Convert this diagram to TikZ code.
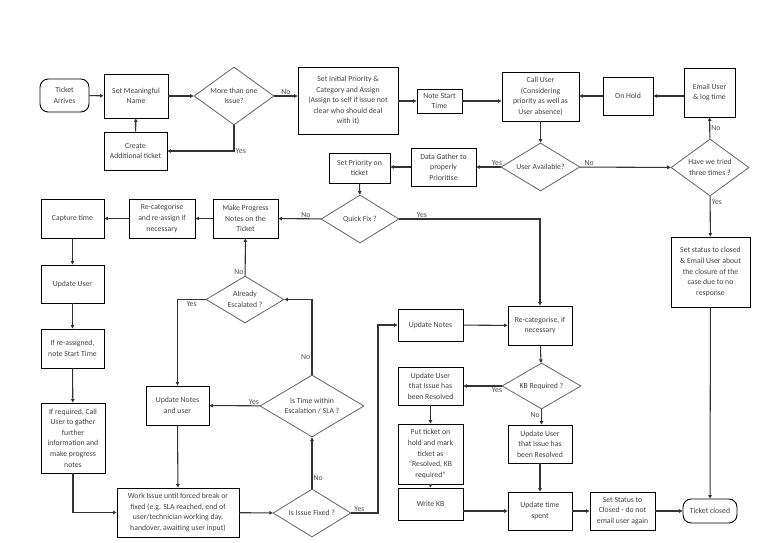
\documentclass[tikz,border=0pt]{standalone}
\usepackage{fontspec}
\setmainfont{Carlito}
\usetikzlibrary{shapes.geometric,arrows.meta,positioning}

\begin{document}
\begin{tikzpicture}[x=0.03cm, y=-0.03cm,
    font=\fontsize{6.6}{9}\selectfont, text=black!75,
    box/.style 2 args={draw, rectangle, align=center, inner sep=1pt, line width=0.8pt, minimum width=#1*0.03cm, minimum height=#2*0.03cm},
    term/.style 2 args={box={#1}{#2}, rounded corners=7pt},
    dia/.style 2 args={draw=black!60, diamond, aspect=1.5, align=center, inner sep=0pt, line width=0.7pt, minimum width=#1*0.03cm, minimum height=#2*0.03cm},
    arr/.style={-{Triangle[length=3pt,width=3pt]}, line width=0.9pt, draw=black!80},
    lbl/.style={font=\fontsize{6.6}{8}\selectfont, text=black!70, inner sep=1pt}]
    \useasboundingbox (0,0) rectangle (768,543);

    % top row
    \node (arrive) [term={49}{33}] at (64.5,95.5) {Ticket\\Arrives};
    \node (name) [box={64}{44}] at (136,96) {Set Meaningful\\Name};
    \node (more) [dia={80}{58}] at (234,96) {More than one\\Issue?};
    \node (initial) [box={100}{67}] at (348,100.5) {Set Initial Priority \&\\Category and Assign\\(Assign to self if issue not\\clear who should deal\\with it)};
    \node (extra) [box={63}{38}] at (135.5,151) {Create\\Additional ticket};
    \node (start) [box={45}{24}] at (439.5,101) {Note Start\\Time};
    \node (call) [box={77}{49}] at (540.5,96.5) {Call User\\(Considering\\priority as well as\\User absence)};
    \node (hold) [box={50}{38}] at (628,96) {On Hold};
    \node (email) [box={51}{49}] at (709.5,92.5) {Email User\\\& log time};

    % second row
    \node (avail) [dia={79}{48}] at (540.5,167) {User Available?};
    \node (tried) [dia={78}{57}] at (710,167.5) {Have we tried\\three times ?};
    \node (gather) [box={65}{38}] at (443.5,167) {Data Gather to\\properly\\Prioritise};
    \node (prio) [box={61}{30}] at (359.5,168) {Set Priority on\\ticket};
    \node (quick) [dia={78}{48}] at (360,219) {Quick Fix ?};
    \node (noreply) [box={79}{70}] at (710.5,272) {Set status to closed\\\& Email User about\\the closure of the\\case due to no\\response};
    \node (closed) [term={54}{24}] at (710,511) {Ticket closed};

    % left part
    \node (progress) [box={65}{39}] at (245.5,218.5) {Make Progress\\Notes on the\\Ticket};
    \node (reassign) [box={66}{39}] at (162,218.5) {Re-categorise\\and re-assign if\\necessary};
    \node (capture) [box={63}{39}] at (72.5,218.5) {Capture time};
    \node (upduser) [box={63}{38}] at (72.5,284) {Update User};
    \node (restart) [box={63}{39}] at (72.5,348.5) {If re-assigned,\\note Start Time};
    \node (callback) [box={64}{70}] at (73,438) {If required, Call\\User to gather\\further\\information and\\make progress\\notes};
    \node (escal) [dia={78}{47}] at (245,299.5) {Already\\Escalated ?};
    \node (within) [dia={104}{62}] at (312,406) {Is Time within\\Escalation / SLA ?};
    \node (notes) [box={63}{39}] at (177.5,405.5) {Update Notes\\and user};
    \node (work) [box={122}{49}] at (178,512.5) {Work Issue until forced break or\\fixed (e.g. SLA reached, end of\\user/technician working day,\\handover, awaiting user input)};
    \node (fixed) [dia={78}{48}] at (312,513) {Is Issue Fixed ?};

    % right part
    \node (fixnotes) [box={65}{32}] at (430.5,325) {Update Notes};
    \node (recat) [box={64}{39}] at (540,325.5) {Re-categorise, if\\necessary};
    \node (kb) [dia={79}{46}] at (541.5,386) {KB Required ?};
    \node (tellkb) [box={65}{38}] at (430.5,386) {Update User\\that Issue has\\been Resolved};
    \node (holdkb) [box={65}{60}] at (430.5,454) {Put ticket on\\hold and mark\\ticket as\\“Resolved, KB\\required”};
    \node (writekb) [box={65}{32}] at (430.5,504) {Write KB};
    \node (tell) [box={64}{38}] at (540,444) {Update User\\that Issue has\\been Resolved};
    \node (spent) [box={64}{38}] at (540,511) {Update time\\spent};
    \node (status) [box={65}{38}] at (622.5,511) {Set Status to\\Closed - do not\\email user again};
    \coordinate (turn) at (378,513);

    % connectors
    \draw[arr] (arrive) -- (name);
    \draw[arr] (name) -- (more);
    \draw[arr] (more.east) -- node[lbl, above] {No} (more.east -| initial.west);
    \draw[arr] (more.south) |- node[lbl, pos=0.5, anchor=west] {Yes} (extra.east);
    \draw[arr] (extra) -- (name);
    \draw[arr] (initial.east |- start) -- (start);
    \draw[arr] (start.east) -- (start.east -| call.west);
    \draw[arr] (email.west |- hold) -- (hold);
    \draw[arr] (hold) -- (hold -| call.east);
    \draw[arr] (call) -- (avail);
    \draw[arr] (avail) -- node[lbl, pos=0.03, anchor=south west] {No} (tried);
    \draw[arr] (tried) -- node[lbl, right] {No} (email);
    \draw[arr] (tried) -- node[lbl, pos=0.15, right] {Yes} (noreply);
    \draw[arr] (noreply) -- (closed);
    \draw[arr] (avail) -- node[lbl, pos=0.15, above] {Yes} (gather);
    \draw[arr] (gather.west) -- (gather.west -| prio.east);
    \draw[arr] (prio) -- (quick);
    \draw[arr] (quick) -- node[lbl, pos=0.35, above] {No} (progress);
    \draw[arr] (quick.east) -| node[lbl, pos=0.08, above] {Yes} (recat.north);
    \draw[arr] (progress) -- (reassign);
    \draw[arr] (reassign) -- (capture);
    \draw[arr] (capture) -- (upduser);
    \draw[arr] (upduser) -- (restart);
    \draw[arr] (restart) -- (callback);
    \draw[arr] (callback.south) |- (work.west);
    \draw[arr] (escal) -- node[lbl, pos=0.1, left] {No} (progress);
    \draw[arr] (escal.west) -| node[lbl, pos=0.25, below] {Yes} (notes.north);
    \draw[arr] (within.north) |- node[lbl, pos=0.12, left] {No} (escal.east);
    \draw[arr] (within) -- node[lbl, pos=0.12, above] {Yes} (notes);
    \draw[arr] (notes) -- (work);
    \draw[arr] (work) -- (fixed);
    \draw[arr] (fixed) -- node[lbl, pos=0.2, right] {No} (within);
    \draw[arr] (fixed.east) -- node[lbl, pos=0.3, above] {Yes} (turn) |- (fixnotes.west);
    \draw[arr] (fixnotes) -- (recat);
    \draw[arr] (recat) -- (kb);
    \draw[arr] (kb) -- node[lbl, pos=0.12, below] {Yes} (tellkb);
    \draw[arr] (kb.south) -- node[lbl, pos=0.4, left] {No} (kb.south |- tell.north);
    \draw[arr] (tellkb) -- (holdkb);
    \draw[arr] (holdkb) -- (writekb);
    \draw[arr] (writekb.east |- spent) -- (spent);
    \draw[arr] (tell) -- (spent);
    \draw[arr] (spent) -- (status);
    \draw[arr] (status) -- (closed);
\end{tikzpicture}
\end{document}
